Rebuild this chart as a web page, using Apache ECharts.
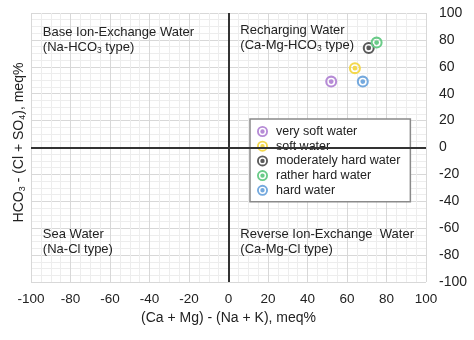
<!DOCTYPE html>
<html><head><meta charset="utf-8">
<script src="https://cdn.jsdelivr.net/npm/echarts@6/dist/echarts.min.js"></script>
<style>html,body{margin:0;padding:0;background:#fff}#c{width:474px;height:340px}</style>
</head><body><div id="c"></div>
<script>
const categories = ['very soft water', 'soft water', 'moderately hard water', 'rather hard water', 'hard water'];
const xValues = [52, 64, 71, 75, 68];
const yValues = [49, 59, 74, 78, 49];
const colors = ['#b68bd6', '#f3d84e', '#5a5a5a', '#6acb88', '#74a9de'];
const quadrantTitles = ['Base Ion-Exchange Water', 'Recharging Water', 'Sea Water', 'Reverse Ion-Exchange  Water'];
const quadrantTypes = ['(Na-HCO{s|3} type)', '(Ca-Mg-HCO{s|3} type)', '(Na-Cl type)', '(Ca-Mg-Cl type)'];
const axisMin = -100, axisMax = 100, axisStep = 20;

const FONT = 'Liberation Sans, Arial, sans-serif';
const ring = 'path://M0 -10A10 10 0 1 1 0 10A10 10 0 1 1 0 -10Z M0 -6.6A6.6 6.6 0 1 0 0 6.6A6.6 6.6 0 1 0 0 -6.6Z M0 -4A4 4 0 1 1 0 4A4 4 0 1 1 0 -4Z';

const chart = echarts.init(document.getElementById('c'), null, {renderer: 'canvas'});

const series = categories.map((name, i) => ({
  type: 'scatter', name: name, symbol: ring, symbolSize: 12,
  itemStyle: {color: colors[i], opacity: 1},
  data: [[xValues[i], yValues[i]]], z: 5
}));
series.push({
  type: 'scatter', data: [], silent: true,
  markLine: {silent: true, symbol: 'none', label: {show: false},
    lineStyle: {color: '#333', width: 2, type: 'solid'},
    data: [{xAxis: 0}, {yAxis: 0}]}
});

chart.setOption({
  animation: false,
  textStyle: {fontFamily: FONT},
  grid: {left: 31, right: 48, top: 13, bottom: 58, outerBoundsMode: 'none', containLabel: false},
  xAxis: {
    type: 'value', min: axisMin, max: axisMax, interval: axisStep,
    name: '(Ca + Mg) - (Na + K), meq%', nameLocation: 'middle', nameGap: 29,
    nameTextStyle: {fontSize: 14, color: '#222', fontFamily: FONT},
    axisLine: {show: false}, axisTick: {show: false},
    axisLabel: {fontSize: 13.5, color: '#222', margin: 10, fontFamily: FONT},
    splitLine: {lineStyle: {color: '#d8d8d8', width: 1}},
    minorTick: {show: false, splitNumber: 4},
    minorSplitLine: {show: true, lineStyle: {color: '#ededed', width: 1}}
  },
  yAxis: [{
    type: 'value', min: axisMin, max: axisMax, interval: axisStep, position: 'right',
    axisLine: {show: false}, axisTick: {show: false},
    axisLabel: {fontSize: 14, color: '#222', margin: 13, fontFamily: FONT},
    splitLine: {lineStyle: {color: '#d8d8d8', width: 1}},
    minorTick: {show: false, splitNumber: 4},
    minorSplitLine: {show: true, lineStyle: {color: '#ededed', width: 1}}
  }, {
    type: 'value', min: axisMin, max: axisMax, interval: axisStep, position: 'left',
    name: '{n|HCO}{s|3}{n| - (Cl + SO}{s|4}{n|), meq%}', nameLocation: 'middle', nameGap: 4, nameRotate: 90,
    nameTextStyle: {fontSize: 14, color: '#222', padding: [0, 0, 0, 10], rich: {n: {fontSize: 14, fontFamily: FONT, color: '#222'}, s: {fontSize: 9, fontFamily: FONT, color: '#222', padding: [7, 0, 0, 0]}}},
    axisLine: {show: false}, axisTick: {show: false}, axisLabel: {show: false}, splitLine: {show: false}
  }],
  legend: {
    data: categories, orient: 'vertical', left: 250, top: 119,
    backgroundColor: '#fff', borderColor: '#8a8a8a', borderWidth: 1.5, borderRadius: 0,
    padding: [6, 10, 5, 7], itemWidth: 11, itemHeight: 11, itemGap: 1.7,
    icon: ring,
    textStyle: {fontSize: 12.5, color: '#222', fontFamily: FONT, padding: [0, 0, 0, 3]}
  },
  series: series
});

// quadrant annotations anchored to data coordinates
const anchors = [[-94, 91], [6, 92.5], [-94, -59], [6, -59]];
const graphics = quadrantTitles.map((t, i) => {
  const p = chart.convertToPixel({xAxisIndex: 0, yAxisIndex: 0}, anchors[i]);
  return {type: 'text', left: p[0], top: p[1], z: 10,
    style: {text: t + '\n' + quadrantTypes[i], font: '13px ' + FONT, fill: '#222', lineHeight: 15, rich: {s: {fontSize: 8.5, fontFamily: FONT, fill: '#222', padding: [6, 0, 0, 0]}}}};
});
chart.setOption({graphic: graphics});
</script></body></html>
